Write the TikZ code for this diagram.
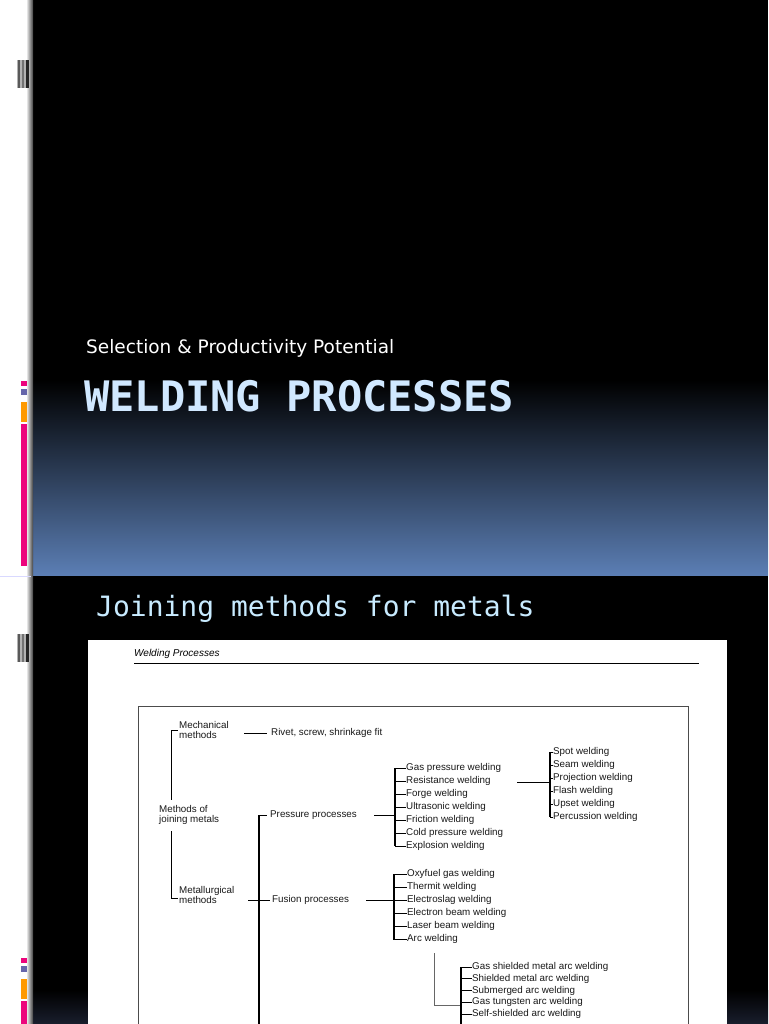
\documentclass[tikz,border=0pt]{standalone}
\usepackage{fontspec}
\setmainfont{Liberation Sans}
\newfontfamily\dsans{DejaVu Sans}
\newfontfamily\dmono{DejaVu Sans Mono}
\begin{document}
\begin{tikzpicture}[x=1pt,y=-1pt,
  it/.style={anchor=west,inner sep=0pt,font=\fontsize{9.8}{10}\selectfont,text=black!90},
  thick/.style={line width=2.4pt},
  thin/.style={line width=0.9pt}]
\useasboundingbox (0,0) rectangle (768,1024);
\clip (0,0) rectangle (768,1024);
% background
\fill[white] (0,0) rectangle (768,1024);
\fill[black] (31,0) rectangle (768,1024);
\shade[shading angle=0,top color=black,bottom color={rgb,255:red,91;green,126;blue,180}] (31,575) rectangle (768,380);
\shade[shading angle=0,top color=black,bottom color={rgb,255:red,25;green,30;blue,45}] (31,1024) rectangle (768,990);
\shade[left color=white,right color=black!75] (26,0) rectangle (33,1024);
\draw[blue!15,line width=0.8pt] (0,576) -- (31,576);
% decorations
\foreach \y in {60,634}{
  \fill[black!30] (17,\y) rectangle (30,\y+28);
  \fill[black!65] (18,\y) rectangle (20,\y+28);
  \fill[black!55] (22,\y) rectangle (24,\y+28);
  \fill[black!85] (26,\y) rectangle (29,\y+28);
}
\foreach \y in {381,958}{
  \fill[magenta!85!red] (21,\y) rectangle (27,\y+5);
  \fill[black!55!blue!60] (21,\y+8) rectangle (27,\y+14);
  \fill[orange!80!yellow] (21,\y+21) rectangle (27,\y+41);
  \fill[magenta!85!red] (21,\y+43) rectangle (27,\y+185);
}
% slide 1 text
\node[anchor=west,inner sep=0pt,text=white,font=\dsans\fontsize{18.5}{20}\selectfont] (sub) at (86,348) {Selection \& Productivity Potential};
\node[anchor=west,inner sep=0pt,text={rgb,255:red,208;green,232;blue,255},font=\dmono\bfseries\fontsize{42}{44}\selectfont] (title) at (84,396) {WELDING PROCESSES};
% slide 2
\node[anchor=west,inner sep=0pt,text={rgb,255:red,200;green,235;blue,255},font=\dmono\fontsize{28}{30}\selectfont] (t2) at (96,609) {Joining methods for metals};
\fill[white] (88,640) rectangle (727,1030);
\node[anchor=west,inner sep=0pt,font=\itshape\fontsize{10}{11}\selectfont] (wp) at (134,654) {Welding Processes};
\draw[line width=0.9pt] (134,663) -- (699,663);
\draw[black!70,line width=0.8pt] (138,1030) -- (138,706) -- (688,706) -- (688,1030);
% tree
\node[it,align=left] (mech) at (179,730) {Mechanical\\methods};
\node[it,align=left] (meth) at (159,815) {Methods of\\joining metals};
\node[it,align=left] (metal) at (179,895) {Metallurgical\\methods};
\draw[thin] (178,730) -- (171,730) -- (171,800);
\draw[thin] (171,831) -- (171,898) -- (178,898);
\node[it] (rivet) at (271,733) {Rivet, screw, shrinkage fit};
\draw[thin] (244,733) -- (267,733);
\node[it] (press) at (270,815) {Pressure processes};
\node[it] (fus) at (272,900) {Fusion processes};
\draw[thin] (248,900) -- (259,900);
\draw[thick] (259,815) -- (259,1030);
\draw[thin] (259,815) -- (267,815);
\draw[thin] (259,900) -- (270,900);
% pressure items
\draw[thin] (374,815) -- (395,815);
\draw[thick] (395,768) -- (395,846);
\foreach \t [count=\i] in {Gas pressure welding,Resistance welding,Forge welding,Ultrasonic welding,Friction welding,Cold pressure welding,Explosion welding}{
  \node[it] (p\i) at (406,755+13*\i) {\t};
  \draw[thin] (395,755+13*\i) -- (p\i.west);
}
% resistance items
\draw[thin] (517,782) -- (550,782);
\draw[thick] (550,752) -- (550,817);
\foreach \t [count=\i] in {Spot welding,Seam welding,Projection welding,Flash welding,Upset welding,Percussion welding}{
  \node[it] (r\i) at (553,739+13*\i) {\t};
  \draw[thin] (550,739+13*\i) -- (r\i.west);
}
% fusion items
\draw[thin] (366,900) -- (394,900);
\draw[thick] (394,874) -- (394,940);
\foreach \t [count=\i] in {Oxyfuel gas welding,Thermit welding,Electroslag welding,Electron beam welding,Laser beam welding,Arc welding}{
  \node[it] (f\i) at (407,861+13*\i) {\t};
  \draw[thin] (394,861+13*\i) -- (f\i.west);
}
% arc items
\draw[black!60,line width=0.8pt] (434,953) -- (434,1005) -- (461,1005);
\draw[thick] (461,967) -- (461,1030);
\foreach \t [count=\i] in {Gas shielded metal arc welding,Shielded metal arc welding,Submerged arc welding,Gas tungsten arc welding,Self-shielded arc welding}{
  \node[it] (a\i) at (472,955.5+11.7*\i) {\t};
  \draw[thin] (461,955.5+11.7*\i) -- (a\i.west);
}
\end{tikzpicture}
\end{document}
